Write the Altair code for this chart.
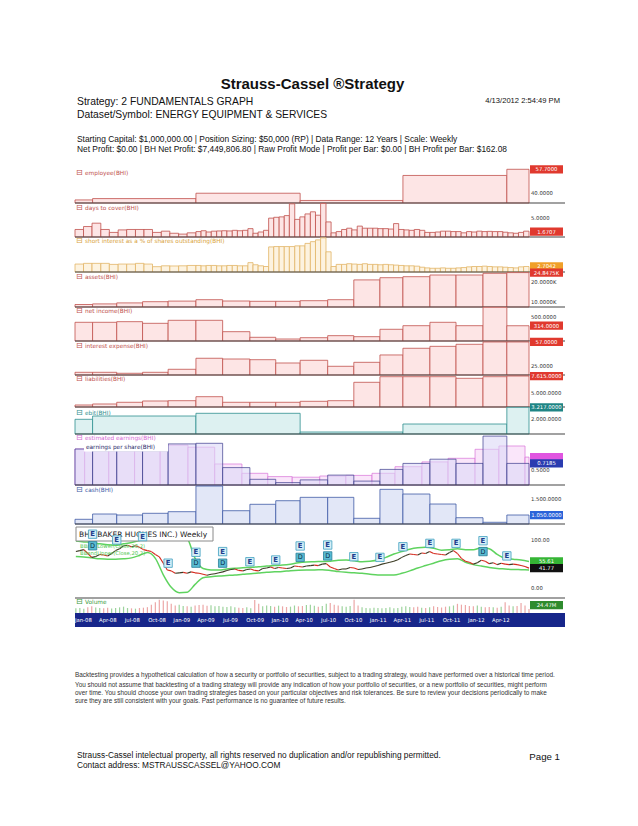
import altair as alt
import numpy as np
import pandas as pd

W = 557
XRANGE = [67, 521]

# ---------------- data ----------------
Q_EDGES = ["2007-11-27", "2008-01-28", "2008-04-22", "2008-07-22", "2008-10-20",
           "2009-01-26", "2009-04-30", "2009-08-04", "2009-11-03", "2010-01-28",
           "2010-05-05", "2010-08-05", "2010-11-05", "2011-01-25", "2011-04-30",
           "2011-07-31", "2011-11-03", "2012-01-26", "2012-04-13"]
Y_EDGES = ["2007-11-27", "2008-01-28", "2009-01-26", "2010-01-28", "2011-01-25",
           "2012-01-26", "2012-04-13"]
EST_EDGES = ["2007-11-27", "2007-12-31", "2008-03-25", "2008-06-24", "2008-09-22",
             "2008-12-29", "2009-04-02", "2009-07-07", "2009-10-06", "2009-12-31",
             "2010-04-07", "2010-07-08", "2010-10-08", "2010-12-28", "2011-04-02",
             "2011-07-03", "2011-10-06", "2011-12-29", "2012-03-30", "2012-04-13"]
SI_EDGES = (list(pd.date_range("2007-11-27", "2009-01-26", periods=15).strftime("%Y-%m-%d"))
            + list(pd.date_range("2009-01-26", "2012-04-13", periods=65).strftime("%Y-%m-%d"))[1:])

EMPLOYEE = [34.8, 35.8, 39.8, 34.4, 53.1, 57.7]
EBIT = [1969, 2312, 2593, 648, 1480, 3217]
ASSETS = [8.9, 9.2, 9.7, 10.3, 10.6, 11.3, 10.65, 10.5, 10.5, 10.8, 11.3, 21.2, 22.3,
          22.8, 23.65, 23.65, 24.5, 24.85]
NET_INCOME = [385, 385, 398, 364, 426, 426, 192, 76, 41, 68, 110, 89, 241, 315, 385,
              315, 694, 314]
INTEREST = [16.6, 16.6, 15.3, 16.6, 20.6, 35.3, 34.3, 33.4, 29, 32.6, 24.6, 29.9, 39.7,
            48.6, 51.2, 53.9, 57, 57]
LIABILITIES = [3154, 3308, 3570, 3770, 3816, 4431, 3570, 3570, 3570, 3723, 3816, 6646,
               7507, 7507, 7507, 7261, 7507, 7615]
EPS = [1.2, 1.14, 1.14, 1.14, 1.37, 1.39, 0.58, 0.19, 0.08, 0.17, 0.33, 0.13, 0.52,
       0.72, 0.86, 0.72, 1.63, 0.72]
EST_EARN = [1.2, 1.17, 1.17, 1.23, 1.33, 1.26, 0.7, 0.39, 0.28, 0.26, 0.3, 0.32, 0.39,
            0.61, 0.77, 0.89, 1.19, 1.3, 0.93]
CASH = [929, 1078, 1050, 1098, 1143, 1865, 1171, 1351, 1452, 1547, 1547, 957, 1772,
        1640, 1359, 974, 845, 1050]

DAYS_TO_COVER = ([2.2, 2.9, 3.7, 2.2, 1.5, 2.1, 2.2, 2.2, 2.2, 1.5, 1.8, 1.3, 1.1, 1.4]
                 + [1.7, 1.9, 1.6, 1.8, 1.85, 1.9, 1.85, 2.0, 1.9, 2.0, 2.4, 1.3, 1.6, 2.0]
                 + [4.9, 5.1, 5.2, 5.5, 8.3, 4.6]
                 + [5.2, 5.9, 6.4, 5.6, 8.4, 4.0]
                 + [1.4, 1.7, 2.2, 2.5, 2.1, 3.0]
                 + [2.5, 2.5, 2.5, 2.4, 2.4, 2.3, 3.6, 2.2]
                 + [2.1, 2.0, 2.2, 2.0, 1.5, 1.5, 1.6]
                 + [1.8, 1.8, 1.7, 1.7, 1.4, 1.7, 1.6, 1.8]
                 + [1.7, 1.75, 1.7, 1.7, 1.55, 1.4, 1.3, 1.5, 1.8])
SHORT_INT = ([3.4, 3.6, 3.6, 3.6, 3.3, 3.4, 3.4, 3.6, 3.4, 2.65, 2.9, 2.85, 2.9, 3.0]
             + [3.0, 2.9, 3.0, 3.0, 2.9, 2.9, 3.0, 3.0, 2.9, 2.9, 3.8, 3.2, 2.9, 2.7]
             + [8.3, 8.4, 8.4, 8.4, 8.4, 8.6, 8.6, 9.3, 9.8, 10.3, 10.9, 6.9]
             + [2.7, 3.3, 3.3, 3.5, 3.4, 3.3, 3.5, 3.3, 3.3, 3.2, 3.3, 3.2, 3.1, 3.0]
             + [2.9, 2.9, 2.8, 2.5, 2.3, 2.2, 2.2, 2.3, 2.2, 2.2, 2.3, 2.4]
             + [2.6, 2.7, 2.7, 2.8, 2.7, 2.6, 2.6, 2.5, 2.4, 2.3, 2.6, 2.7])

PRICE_DATES = list(pd.date_range(end="2012-04-13", periods=115, freq="14D").strftime("%Y-%m-%d"))
PRICE = [76, 78, 80, 72, 64, 66, 70, 69, 67, 72,
         78, 82, 88, 89, 86, 88, 85, 80, 78, 76,
         70, 65, 52, 38, 36, 31, 32, 33, 31, 34,
         32, 31, 29, 27, 29, 30, 32, 34, 37, 39,
         40, 37, 36, 39, 40, 37, 36, 41, 42, 44,
         41, 43, 42, 41, 42, 46, 45, 44, 46, 47,
         48, 47, 50, 51, 44, 41, 38, 40, 40, 43,
         42, 39, 40, 42, 43, 45, 47, 50, 52, 54,
         56, 59, 64, 68, 71, 70, 69, 73, 72, 76,
         72, 71, 70, 69, 74, 78, 72, 62, 56, 54,
         50, 53, 58, 56, 51, 53, 49, 52, 50, 49,
         50, 49, 47, 45, 41.77]
BAND_DATES = PRICE_DATES[::2]
BB_UPPER = [98, 96, 95, 92, 90, 89, 92, 95, 99, 104,
            112, 118, 118, 114, 104, 62, 41, 38, 38, 40,
            41.5, 42.5, 43.5, 44.5, 46, 47, 48, 50, 53, 54.5,
            55, 55.5, 56, 58, 58.5, 57, 55, 56, 58.5, 64,
            71, 76, 81, 84, 85, 83, 79, 80, 82, 80,
            80, 84, 82, 70, 62, 60, 58.5, 55.61]
BB_LOWER = [66, 65, 63, 61, 60, 60, 61, 63, 68, 74,
            62, 28, 2, -9, -8, 8, 22, 24, 25.5, 26.5,
            27.5, 29, 30, 31.5, 33, 34, 35, 36.5, 37.5, 38,
            38, 38.5, 37, 34.5, 33, 32, 31, 29, 27.5, 27.5,
            27.5, 31, 36, 42, 47, 52, 57, 60, 61, 54,
            49, 46, 43, 41, 40, 39, 38.5, 38]
VOLUME = ([28, 30, 25, 35, 40, 33, 30, 28, 32, 27, 30, 34, 38, 30, 28, 26, 30, 32, 35]
          + [50, 65, 80, 75, 70, 55]
          + [45, 50, 42, 40, 38, 45, 48, 50, 44, 46, 40, 42, 38, 36, 40, 35, 32, 30, 34, 28]
          + [78, 55]
          + [40, 45, 42, 38, 44, 40, 36, 38, 45, 40, 42, 48, 50, 44, 38, 42, 55, 60, 50, 45,
             40, 38, 42]
          + [80]
          + [45, 35, 30, 28, 32, 30, 28, 30, 34, 28, 30, 38, 40, 36, 34, 38, 32, 30, 35, 40]
          + [36, 33, 38, 40, 45, 55, 50, 48, 42, 40, 45, 38, 35, 36, 34, 32, 38]
          + [65, 45, 40, 42, 60, 45, 24.47])

E_VALS = [112, 100, 107, 52, 74.5, 76, 55, 58.6, 87.6, 89.6, 65.4, 64, 86, 93, 93, 98.5, 67]
D_INDEX = [1, 5, 6, 9, 10, 16]
D_VALS = [88, 52, 52, 64, 67, 76]

AXIS_DATES = ["2008-01-01", "2008-04-01", "2008-07-01", "2008-10-01", "2009-01-01",
              "2009-04-01", "2009-07-01", "2009-10-01", "2010-01-01", "2010-04-01",
              "2010-07-01", "2010-10-01", "2011-01-01", "2011-04-01", "2011-07-01",
              "2011-10-01", "2012-01-01", "2012-04-01"]
AXIS_LABELS = ["Jan-08", "Apr-08", "Jul-08", "Oct-08", "Jan-09", "Apr-09", "Jul-09",
               "Oct-09", "Jan-10", "Apr-10", "Jul-10", "Oct-10", "Jan-11", "Apr-11",
               "Jul-11", "Oct-11", "Jan-12", "Apr-12"]

DISCLAIMER = [
    "Backtesting provides a hypothetical calculation of how a security or portfolio of securities, subject to a trading strategy, would have performed over a historical time period.",
    "You should not assume that backtesting of a trading strategy will provide any indication of how your portfolio of securities, or a new portfolio of securities, might perform",
    "over time. You should choose your own trading strategies based on your particular objectives and risk tolerances. Be sure to review your decisions periodically to make",
    "sure they are still consistent with your goals. Past performance is no guarantee of future results.",
]

# ---------------- helpers ----------------
def DT(y, m, d):
    return alt.DateTime(year=y, month=m, date=d, utc=True)

XS = alt.Scale(domain=[DT(2007, 11, 27), DT(2012, 4, 13)], range=XRANGE)
XB = alt.Scale(domain=[DT(2007, 12, 1), DT(2012, 7, 15)], range=XRANGE)
BADGE = "M-1,-0.25L1,-0.25L1,0.25L-1,0.25Z"
RED = "#e0392e"
PINK_FILL, PINK_STROKE = "#fde5e5", "#c0504d"
SMALL = "DejaVu Sans"
BIG = "Liberation Sans"


def ysc(lo, hi):
    return alt.Scale(domain=[lo, hi], zero=False, nice=False)


def txt(s, x, y, size, align="left", weight="normal", color="#111", font=BIG):
    return alt.Chart(pd.DataFrame({"t": [s]})).mark_text(
        align=align, baseline="middle", fontSize=size, fontWeight=weight,
        color=color, font=font).encode(x=alt.value(x), y=alt.value(y), text="t:N")


def bars(edges, vals, ys, lo, fill, stroke, op=1.0, sw=0.8):
    df = pd.DataFrame({"s": edges[:-1], "e": edges[1:], "v": vals})
    return alt.Chart(df).mark_rect(fill=fill, stroke=stroke, strokeWidth=sw,
                                   fillOpacity=op).encode(
        x=alt.X("s:T", scale=XS, axis=None), x2="e:T",
        y=alt.Y("v:Q", scale=ys, axis=None), y2=alt.datum(lo))


def label_layers(name, color, ly):
    return [txt("\u229f", 68, ly, 8, color=color, font=SMALL),
            txt(name, 77, ly, 5.8, color=color, font=SMALL)]


def tick_layer(ticks, ys):
    df = pd.DataFrame({"v": [t[0] for t in ticks], "t": [t[1] for t in ticks]})
    return alt.Chart(df).mark_text(align="left", baseline="middle", fontSize=5.3,
                                   font=SMALL, color="#333").encode(
        x=alt.value(523), y=alt.Y("v:Q", scale=ys, axis=None), text="t:N")


def badge_layers(v, t, color, ys):
    df = pd.DataFrame({"v": [v], "t": [t]})
    pt = alt.Chart(df).mark_point(shape=BADGE, size=1089, filled=True, opacity=1,
                                  color=color, strokeWidth=0).encode(
        x=alt.value(538.5), y=alt.Y("v:Q", scale=ys, axis=None))
    tx = alt.Chart(df).mark_text(align="center", baseline="middle", fontSize=5.3,
                                 font=SMALL, color="white").encode(
        x=alt.value(538.5), y=alt.Y("v:Q", scale=ys, axis=None), text="t:N")
    return [pt, tx]


def sep(h):
    return alt.Chart(pd.DataFrame({"a": [0]})).mark_rule(
        color="#454545", strokeWidth=1.2).encode(
        x=alt.value(67), x2=alt.value(W), y=alt.value(h))


def panel(h, ys, main, name, color, ly, ticks, badges, extra=()):
    layers = list(main) + list(extra) + label_layers(name, color, ly)
    if ticks:
        layers.append(tick_layer(ticks, ys))
    for v, t, c in badges:
        layers += badge_layers(v, t, c, ys)
    layers.append(sep(h))
    return alt.layer(*layers).properties(width=W, height=h)


# ---------------- header ----------------
header = alt.layer(
    txt("Strauss-Cassel \u00aeStrategy", 304.5, 75.5, 15, align="center", weight="bold"),
    txt("Strategy: 2 FUNDAMENTALS GRAPH", 69, 93.5, 10.35),
    txt("4/13/2012 2:54:49 PM", 552, 93, 7.6, align="right"),
    txt("Dataset/Symbol: ENERGY EQUIPMENT & SERVICES", 69, 106.5, 10.3),
    txt("Starting Capital: $1,000,000.00 | Position Sizing: $50,000 (RP) | Data Range: 12 Years | Scale: Weekly", 69, 130.5, 8.4),
    txt("Net Profit: $0.00 | BH Net Profit: $7,449,806.80 | Raw Profit Mode |  Profit per Bar: $0.00 | BH Profit per Bar: $162.08", 69, 141, 8.4),
).properties(width=W, height=155)

# ---------------- fundamentals panels ----------------
ys = ysc(32.5, 62.4)
p_emp = panel(40, ys, [bars(Y_EDGES, EMPLOYEE, ys, 32.5, PINK_FILL, PINK_STROKE)],
              "employee(BHI)", PINK_STROKE, 9.5, [(40, "40.0000")],
              [(57.7, "57.7000", RED)])

ys = ysc(0.41, 8.5)
p_dtc = panel(34, ys, [bars(SI_EDGES, DAYS_TO_COVER, ys, 0.41, PINK_FILL, PINK_STROKE)],
              "days to cover(BHI)", PINK_STROKE, 4.7, [(5, "5.0000")],
              [(1.6707, "1.6707", RED)])

ys = ysc(1.13, 11.13)
p_si = panel(35, ys, [bars(SI_EDGES, SHORT_INT, ys, 1.13, "#fdf3e0", "#e2b567")],
             "short interest as a % of shares outstanding(BHI)", "#d9a441", 4.2, [],
             [(2.7042, "2.7042", "#f0a02a")])

ys = ysc(7.65, 25.15)
p_assets = panel(35, ys, [bars(Q_EDGES, ASSETS, ys, 7.65, PINK_FILL, PINK_STROKE)],
                 "assets(BHI)", PINK_STROKE, 4.8, [(20, "20.0000K"), (10, "10.0000K")],
                 [(24.8475, "24.8475K", RED)])

ys = ysc(0, 700)
p_ni = panel(34, ys, [bars(Q_EDGES, NET_INCOME, ys, 0, PINK_FILL, PINK_STROKE)],
             "net income(BHI)", PINK_STROKE, 4.2, [(500, "500.0000")],
             [(314, "314.0000", RED)])

ys = ysc(13, 58.3)
p_ie = panel(34, ys, [bars(Q_EDGES, INTEREST, ys, 13, PINK_FILL, PINK_STROKE)],
             "interest expense(BHI)", PINK_STROKE, 5, [(25, "25.0000")],
             [(57, "57.0000", RED)])

ys = ysc(2846, 7769)
p_liab = panel(32, ys, [bars(Q_EDGES, LIABILITIES, ys, 2846, PINK_FILL, PINK_STROKE)],
               "liabilities(BHI)", PINK_STROKE, 4.3, [(5000, "5.000.0000")],
               [(7615, "7.615.0000", RED)])

ys = ysc(440, 3248)
p_ebit = panel(27, ys, [bars(Y_EDGES, EBIT, ys, 440, "#ddf1f1", "#2f8f8f")],
               "ebit(BHI)", "#2f8f8f", 5.6, [(2000, "2.000.0000")],
               [(3217, "3.217.0000", "#1f8585")])

ys = ysc(0, 1.7)
eps_extra = [
    alt.Chart(pd.DataFrame({"a": [0]})).mark_rect(fill="white").encode(
        x=alt.value(76), x2=alt.value(160), y=alt.value(9.5), y2=alt.value(17.5)),
    txt("earnings per share(BHI)", 78, 13.4, 5.8, color="#2b2b6b", font=SMALL),
]
p_eps = panel(51, ys,
              [bars(EST_EDGES, EST_EARN, ys, 0, "#f9e0f9", "#d873d8", op=0.8, sw=0.7),
               bars(Q_EDGES, EPS, ys, 0, "#dcd8f6", "#3b3b8c", op=0.6, sw=0.7)],
              "estimated earnings(BHI)", "#d46ad4", 4.3,
              [(1.0, "1.0000"), (0.5, "0.5000")],
              [(0.93, "", "#e055e0"), (0.7185, "0.7185", "#2a3cb0")],
              extra=eps_extra)

ys = ysc(797, 1894)
p_cash = panel(39, ys, [bars(Q_EDGES, CASH, ys, 797, "#e2e7f7", "#3f5aa6")],
               "cash(BHI)", "#3f5aa6", 5, [(1500, "1.500.0000")],
               [(1050, "1.050.0000", "#2b63d9")])

# ---------------- price panel ----------------
PS = ysc(-20.1, 133.1)
band_df = pd.concat([
    pd.DataFrame({"d": BAND_DATES, "v": BB_UPPER, "b": "upper"}),
    pd.DataFrame({"d": BAND_DATES, "v": BB_LOWER, "b": "lower"}),
])
bands = alt.Chart(band_df).mark_line(color="#5fd35f", strokeWidth=1.5,
                                     interpolate="monotone").encode(
    x=alt.X("d:T", scale=XS, axis=None), y=alt.Y("v:Q", scale=PS, axis=None),
    detail="b:N")

pdf = pd.DataFrame({"d": PRICE_DATES, "p": PRICE})
seg = pdf.iloc[:-1].copy()
seg["d2"] = pdf["d"].values[1:]
seg["p2"] = pdf["p"].values[1:]
seg["dir"] = np.where(seg["p2"] >= seg["p"], "up", "down")
price = alt.Chart(seg).mark_rule(strokeWidth=1.1).encode(
    x=alt.X("d:T", scale=XS, axis=None), x2="d2:T",
    y=alt.Y("p:Q", scale=PS, axis=None), y2="p2:Q",
    color=alt.Color("dir:N", scale=alt.Scale(domain=["up", "down"],
                                             range=["#3a3a22", "#d4281c"]), legend=None))

legend_box = alt.Chart(pd.DataFrame({"a": [0]})).mark_rect(
    fill="white", stroke="#8a8a8a", strokeWidth=1).encode(
    x=alt.value(68), x2=alt.value(205), y=alt.value(3), y2=alt.value(17))

e_df = pd.DataFrame({"d": Q_EDGES[1:18], "v": E_VALS})
d_df = pd.DataFrame({"d": [Q_EDGES[i] for i in D_INDEX], "v": D_VALS})
ex = alt.X("d:T", scale=XS, axis=None)
ey = alt.Y("v:Q", scale=PS, axis=None)
e_box = alt.Chart(e_df).mark_square(size=70, filled=True, fill="#d6eef6", stroke="#3f9fc0",
                                    strokeWidth=0.8, opacity=1).encode(x=ex, y=ey)
e_txt = alt.Chart(e_df).mark_text(text="E", fontSize=7, fontWeight="bold", font=SMALL,
                                  color="#1c3c8c", baseline="middle").encode(x=ex, y=ey)
d_box = alt.Chart(d_df).mark_square(size=70, filled=True, fill="#5bbcd3", stroke="#2a7f99",
                                    strokeWidth=0.8, opacity=1).encode(x=ex, y=ey)
d_txt = alt.Chart(d_df).mark_text(text="D", fontSize=6.5, font=SMALL,
                                  color="#0b2f4a", baseline="middle").encode(x=ex, y=ey)

p_price_layers = [bands, price, legend_box,
                  txt("BHI (BAKER HUGHES INC.) Weekly", 71, 10.5, 7.5, color="#222", font=SMALL),
                  txt("BBandLower(Close,20,2)", 72, 21.5, 5.3, color="#55c855", font=SMALL),
                  txt("BBandUpper(Close,20,2)", 72, 28.5, 5.3, color="#55c855", font=SMALL),
                  e_box, e_txt, d_box, d_txt,
                  tick_layer([(100, "100.00"), (0, "0.00")], PS)]
p_price_layers += badge_layers(55.61, "55.61", "#35b535", PS)
p_price_layers += badge_layers(41.77, "41.77", "#111111", PS)
p_price_layers.append(sep(74))
p_price = alt.layer(*p_price_layers).properties(width=W, height=74)

# ---------------- volume panel ----------------
VS = ysc(0, 90)
vdf = pd.DataFrame({"d": PRICE_DATES, "v": VOLUME})
vdir = ["up"] + ["up" if PRICE[i] >= PRICE[i - 1] else "down" for i in range(1, len(PRICE))]
vdf["dir"] = vdir
vol = alt.Chart(vdf).mark_rule(strokeWidth=1.2, opacity=0.75).encode(
    x=alt.X("d:T", scale=XS, axis=None),
    y=alt.Y("v:Q", scale=VS, axis=None), y2=alt.datum(0),
    color=alt.Color("dir:N", scale=alt.Scale(domain=["up", "down"],
                                             range=["#7cc47c", "#e58a8a"]), legend=None))
vbadge = [
    alt.Chart(pd.DataFrame({"a": [0]})).mark_point(shape=BADGE, size=1089, filled=True,
                                                   opacity=1, color="#2e8b2e",
                                                   strokeWidth=0).encode(
        x=alt.value(538.5), y=alt.value(7)),
    txt("24.47M", 538.5, 7, 5.3, align="center", color="white", font=SMALL),
]
p_vol = alt.layer(vol, *label_layers("Volume", "#3c9a3c", 4.3), *vbadge).properties(
    width=W, height=15)

# ---------------- date band ----------------
band = alt.layer(
    alt.Chart(pd.DataFrame({"a": [0]})).mark_rect(fill="#17268a").encode(
        x=alt.value(67), x2=alt.value(W), y=alt.value(0), y2=alt.value(14)),
    alt.Chart(pd.DataFrame({"d": AXIS_DATES, "t": AXIS_LABELS})).mark_text(
        color="white", fontSize=5.3, font=SMALL, baseline="middle").encode(
        x=alt.X("d:T", scale=XB, axis=None), y=alt.value(7), text="t:N"),
).properties(width=W, height=14)

# ---------------- footer ----------------
footer_layers = [txt(line, 67, y, 6.4, color="#333")
                 for line, y in zip(DISCLAIMER, [48, 57.5, 66, 74])]
footer_layers += [
    txt("Strauss-Cassel intelectual property, all rights reserved no duplication and/or republishing permitted.", 69, 128.5, 8.3),
    txt("Contact address: MSTRAUSSCASSEL@YAHOO.COM", 69, 138.5, 8.3),
    txt("Page 1", 552, 129.7, 9.7, align="right"),
]
footer = alt.layer(*footer_layers).properties(width=W, height=153)

chart = alt.vconcat(
    header, p_emp, p_dtc, p_si, p_assets, p_ni, p_ie, p_liab, p_ebit, p_eps, p_cash,
    p_price, p_vol, band, footer,
    spacing=0, bounds="flush", padding=0,
).resolve_scale(x="independent", y="independent", color="independent").configure_view(
    stroke=None)

chart.save("out.html", embed_options={"renderer": "svg", "actions": False})
